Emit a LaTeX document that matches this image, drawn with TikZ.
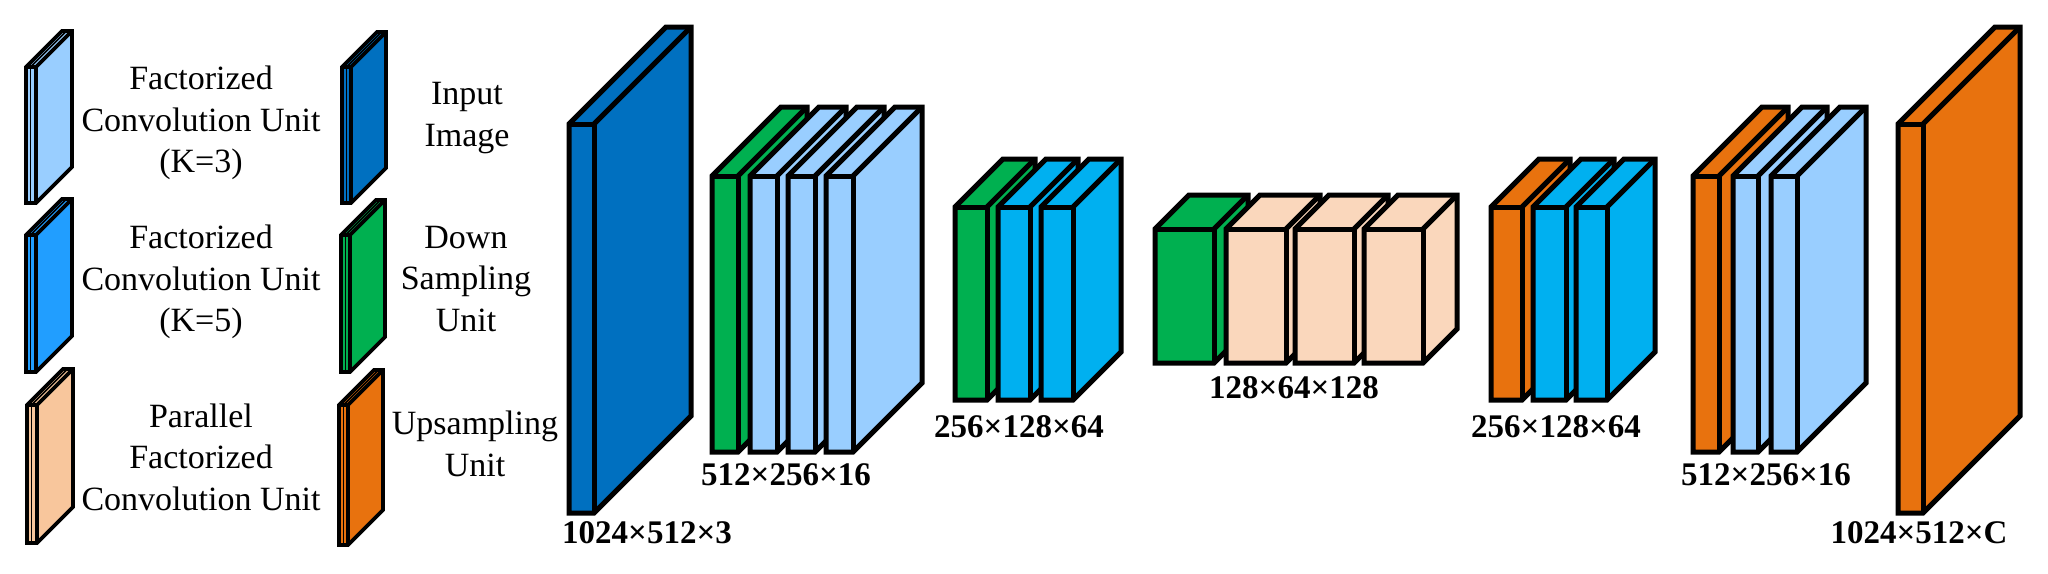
\documentclass[tikz,border=0pt]{standalone}
\usepackage{fontspec}
\setmainfont{Liberation Serif}
\definecolor{inblue}{RGB}{0,112,192}
\definecolor{dsgreen}{RGB}{0,176,80}
\definecolor{kthree}{RGB}{153,206,255}
\definecolor{kfive}{RGB}{0,176,240}
\definecolor{kfiveleg}{RGB}{33,158,255}
\definecolor{upor}{RGB}{232,114,14}
\definecolor{peach}{RGB}{250,215,188}
\definecolor{peachleg}{RGB}{248,198,156}
\tikzset{
  slabline/.style={draw=black, line width=5pt, line join=miter, miter limit=2},
  legline/.style={draw=black, line width=3.8pt, line join=miter, miter limit=2},
  legtext/.style={align=center, font=\fontsize{34}{41.5}\selectfont, inner sep=0pt},
  dimtext/.style={font=\fontsize{33}{38}\selectfont\bfseries, inner sep=0pt}
}
% #1 left, #2 top, #3 right, #4 bottom, #5 depth, #6 colour, #7 line style
\newcommand{\cslab}[7]{%
  \fill[#6] (#1,#4) -- (#1,#2) -- ({#1+#5},{#2-#5}) -- ({#3+#5},{#2-#5}) -- ({#3+#5},{#4-#5}) -- (#3,#4) -- cycle;
  \draw[#7] (#1,#4) -- (#1,#2) -- ({#1+#5},{#2-#5}) -- ({#3+#5},{#2-#5}) -- ({#3+#5},{#4-#5}) -- (#3,#4) -- cycle;
  \draw[#7] (#1,#2) -- (#3,#2) -- (#3,#4);
  \draw[#7] (#3,#2) -- ({#3+#5},{#2-#5});
}
% legend slab with a thin inner layer
\newcommand{\lslab}[6]{%
  \cslab{#1}{#2}{#3}{#4}{#5}{#6}{legline}
  \draw[line width=1.5pt] ({#1+4.5},#2) -- ({#1+4.5},#4);
  \draw[line width=1.5pt] ({#1+4.5},#2) -- ({#1+4.5+#5},{#2-#5});
}
\begin{document}
\begin{tikzpicture}[x=1pt, y=-1pt]
\useasboundingbox (0,0) rectangle (2048,573);

% ---------------- legend ----------------
\lslab{26}{67}{36}{203}{36}{kthree}
\lslab{26}{235}{36}{372}{36}{kfiveleg}
\lslab{27}{405}{37}{543}{36}{peachleg}
\lslab{342}{67}{351}{203}{35}{inblue}
\lslab{341}{235}{350}{372}{35}{dsgreen}
\lslab{339}{405}{348}{545}{35}{upor}

\node[legtext] (lk3) at (201,123) {Factorized\\Convolution Unit\\(K=3)};
\node[legtext] (lk5) at (201,282) {Factorized\\Convolution Unit\\(K=5)};
\node[legtext] (lpf) at (201,457) {Parallel\\Factorized\\Convolution Unit};
\node[legtext] (lin) at (467,118) {Input\\Image};
\node[legtext] (lds) at (466,279) {Down\\Sampling\\Unit};
\node[legtext] (lup) at (475,444) {Upsampling\\Unit};

% ---------------- network ----------------
% input
\cslab{569}{124}{594}{513}{97}{inblue}{slabline}
% encoder stage 1
\cslab{712}{176}{738}{452}{69}{dsgreen}{slabline}
\cslab{750}{176}{777}{452}{69}{kthree}{slabline}
\cslab{788}{176}{815}{452}{69}{kthree}{slabline}
\cslab{826}{176}{853}{452}{69}{kthree}{slabline}
% encoder stage 2
\cslab{955}{207}{987}{400}{48}{dsgreen}{slabline}
\cslab{998}{207}{1030}{400}{48}{kfive}{slabline}
\cslab{1041}{207}{1073}{400}{48}{kfive}{slabline}
% bottleneck
\cslab{1155}{229}{1214}{363}{34}{dsgreen}{slabline}
\cslab{1226}{229}{1286}{363}{34}{peach}{slabline}
\cslab{1295}{229}{1354}{363}{34}{peach}{slabline}
\cslab{1364}{229}{1423}{363}{34}{peach}{slabline}
% decoder stage 1
\cslab{1491}{207}{1522}{400}{48}{upor}{slabline}
\cslab{1533}{207}{1566}{400}{48}{kfive}{slabline}
\cslab{1576}{207}{1607}{400}{48}{kfive}{slabline}
% decoder stage 2
\cslab{1693}{176}{1719}{452}{69}{upor}{slabline}
\cslab{1733}{176}{1758}{452}{69}{kthree}{slabline}
\cslab{1771}{176}{1797}{452}{69}{kthree}{slabline}
% output
\cslab{1898}{124}{1923}{513}{97}{upor}{slabline}

% ---------------- dimension labels ----------------
\node[dimtext] (d1) at (647,533) {1024×512×3};
\node[dimtext] (d2) at (786,475) {512×256×16};
\node[dimtext] (d3) at (1019,427) {256×128×64};
\node[dimtext] (d4) at (1294,388) {128×64×128};
\node[dimtext] (d5) at (1556,427) {256×128×64};
\node[dimtext] (d6) at (1766,475) {512×256×16};
\node[dimtext] (d7) at (1919,533) {1024×512×C};
\end{tikzpicture}
\end{document}
